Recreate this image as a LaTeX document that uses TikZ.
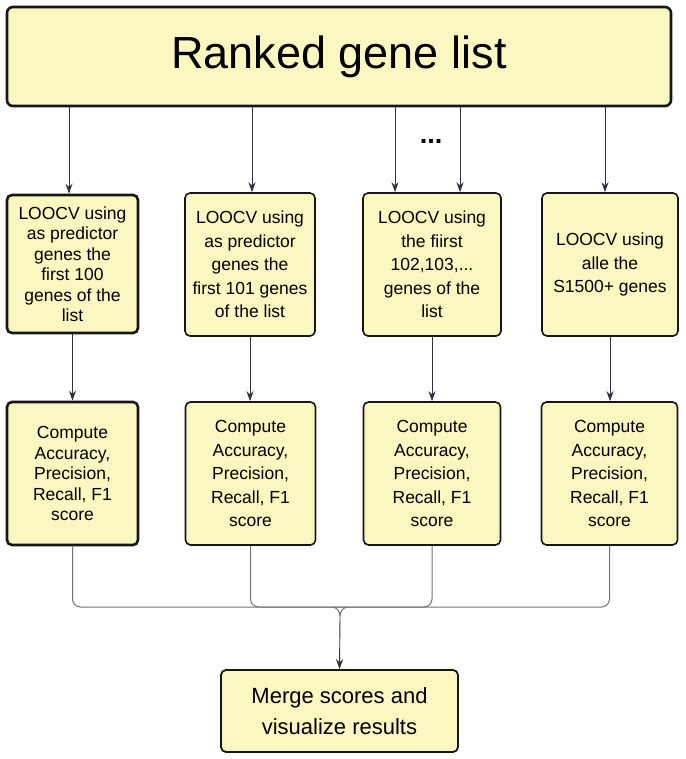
\documentclass[tikz,border=0pt]{standalone}
\usepackage{fontspec}
\setmainfont{Liberation Sans}
\usetikzlibrary{arrows.meta}
\definecolor{boxfill}{RGB}{251,247,193}
\definecolor{boxline}{RGB}{22,22,22}
\definecolor{arrcol}{RGB}{45,52,64}
\definecolor{joincol}{RGB}{112,116,122}
\tikzset{
  box/.style={draw=boxline, fill=boxfill, rounded corners=5pt, line width=1.6pt,
    align=center, inner sep=0pt, font=\fontsize{17.5}{23.5}\selectfont},
  thickbox/.style={box, line width=2.6pt, font=\fontsize{17.5}{20.5}\selectfont},
  topbox/.style={box, line width=2.6pt, rounded corners=6pt, font=\fontsize{45}{50}\selectfont},
  mergebox/.style={box, line width=1.8pt, font=\fontsize{22}{31}\selectfont},
  arr/.style={draw=arrcol, line width=0.9pt, -{Stealth[length=10pt,width=7pt]}},
  joinline/.style={draw=joincol, line width=1pt, rounded corners=8pt}
}
\begin{document}
\begin{tikzpicture}[x=1pt,y=-1pt]
\useasboundingbox (0,0) rectangle (685,759);

\node[topbox, minimum width=664pt, minimum height=99pt] (top) at (339,56.5) {Ranked gene list};

\node[thickbox, minimum width=131pt, minimum height=138pt] (l1) at (72.5,264)
  {LOOCV using\\as predictor\\genes the\\first 100\\genes of the\\list};
\node[box, minimum width=130pt, minimum height=143pt] (l2) at (250,264.5)
  {LOOCV using\\as predictor\\genes the\\first 101 genes\\of the list};
\node[box, minimum width=138pt, minimum height=143pt] (l3) at (432,264.5)
  {LOOCV using\\the fiirst\\102,103,...\\genes of the\\list};
\node[box, minimum width=136pt, minimum height=143pt] (l4) at (610,264.5)
  {LOOCV using\\alle the\\S1500+ genes};

\node[thickbox, minimum width=131pt, minimum height=143pt] (c1) at (72.5,473.5)
  {Compute\\Accuracy,\\Precision,\\Recall, F1\\score};
\node[box, minimum width=130pt, minimum height=143pt] (c2) at (250.5,473.5)
  {Compute\\Accuracy,\\Precision,\\Recall, F1\\score};
\node[box, minimum width=137pt, minimum height=143pt] (c3) at (432,473.5)
  {Compute\\Accuracy,\\Precision,\\Recall, F1\\score};
\node[box, minimum width=136pt, minimum height=143pt] (c4) at (609.5,473.5)
  {Compute\\Accuracy,\\Precision,\\Recall, F1\\score};

\node[mergebox, minimum width=237pt, minimum height=82pt] (m) at (339.5,711)
  {Merge scores and\\visualize results};

\node[font=\bfseries\fontsize{27}{27}\selectfont] (dots) at (431,141) {...};

\coordinate (ax1) at (69,0);
\coordinate (ax2) at (252,0);
\coordinate (ax3) at (395,0);
\coordinate (ax4) at (460,0);
\coordinate (ax5) at (605,0);
\draw[arr] (top.south -| ax1) -- (l1.north -| ax1);
\draw[arr] (top.south -| ax2) -- (l2.north -| ax2);
\draw[arr] (top.south -| ax3) -- (l3.north -| ax3);
\draw[arr] (top.south -| ax4) -- (l3.north -| ax4);
\draw[arr] (top.south -| ax5) -- (l4.north -| ax5);

\draw[arr] (l1.south) -- (c1.north -| l1.south);
\draw[arr] (l2.south) -- (c2.north -| l2.south);
\draw[arr] (l3.south) -- (c3.north -| l3.south);
\draw[arr] (l4.south) -- (c4.north -| l4.south);

\coordinate (j) at (340,607);
\coordinate (jl) at (332,607);
\coordinate (jr) at (348,607);
\coordinate (js) at (340,616);
\draw[joinline] (c1.south) |- (j);
\draw[joinline] (c2.south) |- (j);
\draw[joinline] (c3.south) |- (j);
\draw[joinline] (c4.south) |- (j);
\draw[draw=joincol, line width=1pt] (jl) to[out=0,in=90] (js);
\draw[draw=joincol, line width=1pt] (jr) to[out=180,in=90] (js);
\draw[arr] (js) -- (m.north);
\end{tikzpicture}
\end{document}
